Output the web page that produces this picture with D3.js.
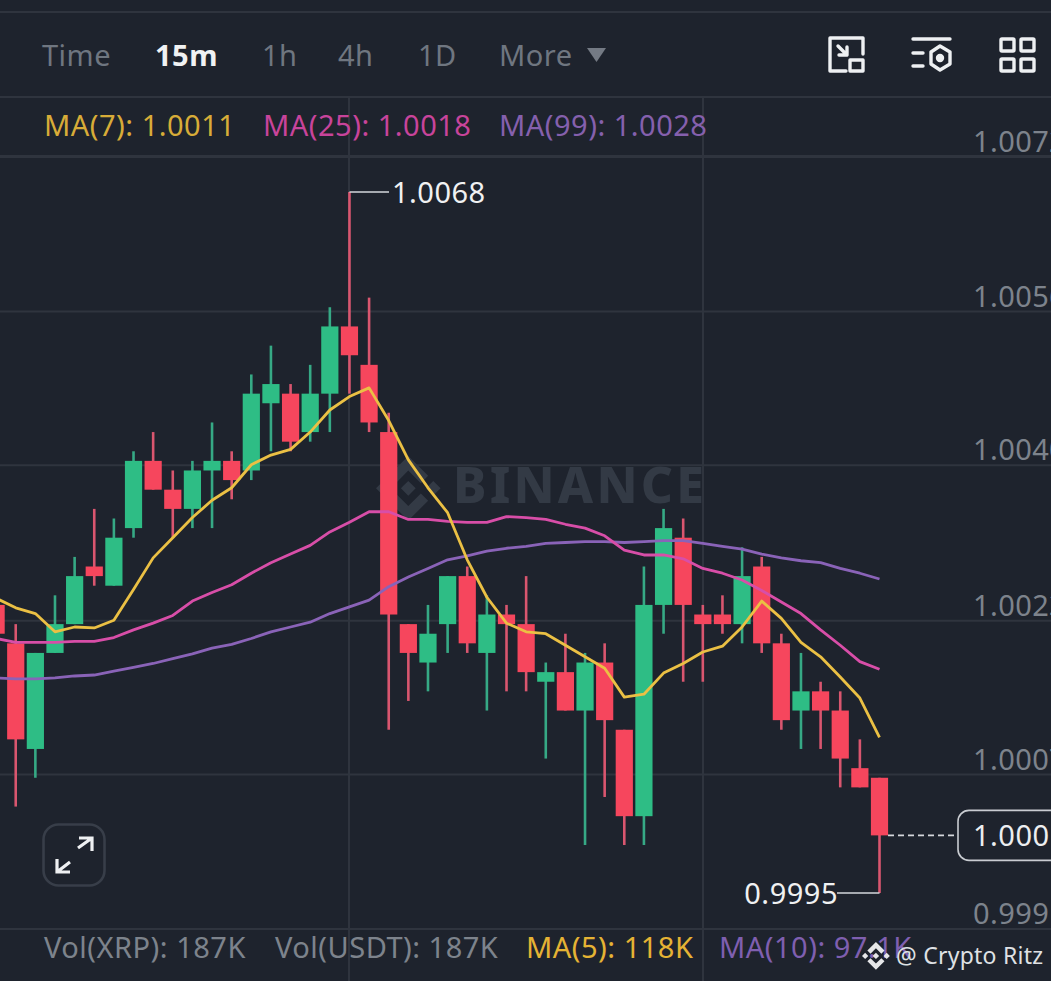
<!DOCTYPE html>
<html>
<head>
<meta charset="utf-8">
<script src="https://cdn.jsdelivr.net/npm/d3@7"></script>
<style>
 html, body { margin: 0; padding: 0; background: #1e232d; overflow: hidden; }
 svg { display: block; }
 text, .tick text { font-family: "Noto Sans", Inter, sans-serif; }
</style>
</head>
<body>
<svg id="chart" width="1051" height="981"></svg>
<script>
 // candles, left to right (first one is cut off by the window edge)
 const opens = [1.0025,1.0021,1.0010,1.0020,1.0023,1.0029,1.0027,1.0033,1.0040,1.0037,1.0035,1.0039,1.0040,1.0039,1.0046,1.0047,1.0043,1.0047,1.0054,1.0050,1.0043,1.0023,1.0019,1.0023,1.0028,1.0020,1.0024,1.0023,1.0017,1.0018,1.0014,1.0019,1.0012,1.0003,1.0025,1.0032,1.0024,1.0024,1.0023,1.0029,1.0021,1.0014,1.0016,1.0014,1.0008,1.0007];
 const closes = [1.0022,1.0011,1.0020,1.0023,1.0028,1.0028,1.0032,1.0040,1.0037,1.0035,1.0039,1.0040,1.0038,1.0047,1.0048,1.0042,1.0047,1.0054,1.0051,1.0044,1.0024,1.0020,1.0022,1.0028,1.0021,1.0024,1.0023,1.0018,1.0018,1.0014,1.0019,1.0013,1.0003,1.0025,1.0033,1.0025,1.0023,1.0023,1.0028,1.0021,1.0013,1.0016,1.0014,1.0009,1.0006,1.0001];
 const highs = [1.0025,1.0023,1.0020,1.0026,1.0030,1.0035,1.0034,1.0041,1.0043,1.0039,1.0040,1.0044,1.0041,1.0049,1.0052,1.0048,1.0050,1.0056,1.0068,1.0057,1.0045,1.0023,1.0025,1.0028,1.0029,1.0026,1.0025,1.0028,1.0019,1.0022,1.0020,1.0021,1.0012,1.0029,1.0035,1.0034,1.0025,1.0026,1.0031,1.0030,1.0022,1.0020,1.0017,1.0016,1.0011,1.0007];
 const lows = [1.0022,1.0004,1.0007,1.0020,1.0023,1.0027,1.0027,1.0032,1.0037,1.0032,1.0033,1.0033,1.0036,1.0038,1.0041,1.0041,1.0042,1.0043,1.0047,1.0043,1.0012,1.0015,1.0016,1.0020,1.0020,1.0014,1.0016,1.0016,1.0009,1.0014,1.0000,1.0005,1.0000,1.0000,1.0022,1.0017,1.0017,1.0022,1.0021,1.0020,1.0012,1.0010,1.0010,1.0006,1.0006,0.9995];

 const ma7 = [1.00257,1.00247,1.00241,1.00222,1.00227,1.00226,1.00234,1.00266,1.00299,1.00320,1.00341,1.00359,1.00372,1.00396,1.00406,1.00412,1.00430,1.00453,1.00467,1.00476,1.00442,1.00401,1.00372,1.00346,1.00297,1.00258,1.00231,1.00222,1.00220,1.00208,1.00196,1.00184,1.00154,1.00157,1.00179,1.00189,1.00201,1.00207,1.00227,1.00254,1.00236,1.00211,1.00196,1.00175,1.00153,1.00112];
 const ma25 = [1.00215,1.00211,1.00211,1.00211,1.00212,1.00212,1.00216,1.00224,1.00231,1.00239,1.00254,1.00263,1.00271,1.00283,1.00294,1.00303,1.00312,1.00326,1.00336,1.00347,1.00347,1.00339,1.00339,1.00337,1.00336,1.00336,1.00342,1.00341,1.00339,1.00334,1.00330,1.00322,1.00307,1.00302,1.00302,1.00298,1.00288,1.00283,1.00276,1.00265,1.00253,1.00241,1.00224,1.00208,1.00191,1.00183];
 const ma99 = [1.00174,1.00173,1.00173,1.00174,1.00176,1.00177,1.00181,1.00185,1.00189,1.00194,1.00199,1.00205,1.00209,1.00215,1.00222,1.00227,1.00232,1.00241,1.00248,1.00255,1.00269,1.00279,1.00288,1.00297,1.00301,1.00306,1.00309,1.00311,1.00314,1.00315,1.00316,1.00316,1.00315,1.00316,1.00317,1.00317,1.00314,1.00311,1.00308,1.00303,1.00299,1.00296,1.00294,1.00288,1.00283,1.00277];

 // price axis
 const gridValues = [1.00717,1.00556,1.00396,1.00234,1.00074,0.99913];
 const tickLabels = ["1.0072","1.0056","1.0040","1.0023","1.0007","0.9991"];
 const highPrice = 1.0068, lowPrice = 0.9995, lastPrice = 1.0001;

 const intervals = ["Time","15m","1h","4h","1D","More"];
 const intervalX = [42,155,262,338,418,499];

 const green = "#2ebd85", red = "#f6465d";
 const greenWick = "#36a985", redWick = "#d9566f";
 const grid = "#2f343e";
 const logoPaths = "M38.73 53.2l24.59-24.58 24.6 24.6 14.3-14.31L63.32 0 24.43 38.9z M0 63.31l14.3-14.31 14.31 14.31-14.31 14.3z M38.73 73.41l24.59 24.59 24.6-24.6 14.31 14.29-38.9 38.91-38.91-38.88z M98 63.31l14.3-14.31 14.31 14.3-14.31 14.32z M77.83 63.3L63.32 48.78 52.59 59.51l-1.24 1.23-2.54 2.54 14.51 14.5 14.51-14.52z";

 const svg = d3.select("#chart");
 const x = d3.scaleLinear().domain([0, opens.length - 1]).range([-3.9, 879.5]);
 const y = d3.scaleLinear().domain([lowPrice, highPrice]).range([893, 192]);

 // frame lines
 [12, 97, 156].forEach(v => {
   svg.append("line").attr("x1", 0).attr("x2", 1051).attr("y1", v).attr("y2", v)
      .attr("stroke", grid).attr("stroke-width", 2);
 });
 [349, 703].forEach(v => {
   svg.append("line").attr("x1", v).attr("x2", v).attr("y1", 97).attr("y2", 981)
      .attr("stroke", grid).attr("stroke-width", 2);
 });

 // grid + price labels
 const axis = d3.axisRight(y).tickValues(gridValues)
                .tickFormat((d, i) => tickLabels[i])
                .tickSize(1051).tickPadding(0);
 const axisG = svg.append("g").call(axis);
 axisG.select(".domain").remove();
 axisG.selectAll("line").attr("stroke", grid).attr("stroke-width", 2);
 axisG.selectAll("text")
      .attr("x", 973).attr("y", -15).attr("dy", "0.35em")
      .attr("letter-spacing", 0.4)
      .attr("font-size", 29).attr("fill", "#7d838c");

 // watermark
 svg.append("path").attr("d", logoPaths).attr("fill", "#333a45")
    .attr("transform", "translate(376,456) scale(0.51)");
 svg.append("text").attr("x", 453).attr("y", 503).attr("font-size", 50).attr("font-weight", 800)
    .attr("letter-spacing", 3.2).attr("fill", "#333a45").text("BINANCE");

 // candles
 const candles = svg.append("g").selectAll("g").data(opens).join("g");
 candles.append("line")
        .attr("x1", (d, i) => x(i)).attr("x2", (d, i) => x(i))
        .attr("y1", (d, i) => y(highs[i])).attr("y2", (d, i) => y(lows[i]))
        .attr("stroke", (d, i) => closes[i] >= opens[i] ? greenWick : redWick)
        .attr("stroke-width", 2.6);
 candles.append("rect")
        .attr("x", (d, i) => x(i) - 8.6).attr("width", 17.2)
        .attr("y", (d, i) => y(Math.max(opens[i], closes[i])))
        .attr("height", (d, i) => Math.abs(y(opens[i]) - y(closes[i])))
        .attr("fill", (d, i) => closes[i] >= opens[i] ? green : red);

 // moving averages
 const line = d3.line().x((d, i) => x(i)).y(d => y(d));
 [[ma99, "#8a63b8"], [ma25, "#d84ea8"], [ma7, "#ebc044"]].forEach(s => {
   svg.append("path").attr("d", line(s[0])).attr("fill", "none")
      .attr("stroke", s[1]).attr("stroke-width", 2.8).attr("stroke-linejoin", "round");
 });

 // high / low / last price callouts
 const callout = "#d5d8dc";
 svg.append("line").attr("x1", x(18)).attr("x2", 389).attr("y1", y(highPrice)).attr("y2", y(highPrice))
    .attr("stroke", callout).attr("stroke-width", 1.6);
 svg.append("text").attr("x", 392).attr("y", y(highPrice) + 1).attr("dy", "0.35em")
    .attr("letter-spacing", 0.5).attr("font-size", 29).attr("fill", "#f0f1f2").text(highPrice.toFixed(4));
 svg.append("line").attr("x1", 837).attr("x2", x(45)).attr("y1", y(lowPrice)).attr("y2", y(lowPrice))
    .attr("stroke", callout).attr("stroke-width", 1.6);
 svg.append("text").attr("x", 838).attr("y", y(lowPrice) + 1).attr("dy", "0.35em").attr("text-anchor", "end")
    .attr("letter-spacing", 0.5).attr("font-size", 29).attr("fill", "#f0f1f2").text(lowPrice.toFixed(4));
 svg.append("line").attr("x1", 888).attr("x2", 958).attr("y1", y(lastPrice)).attr("y2", y(lastPrice))
    .attr("stroke", callout).attr("stroke-width", 1.8).attr("stroke-dasharray", "6 4");
 svg.append("rect").attr("x", 958).attr("y", y(lastPrice) - 25).attr("width", 120).attr("height", 50).attr("rx", 11)
    .attr("fill", "#1e232d").attr("stroke", "#c9ccd1").attr("stroke-width", 1.6);
 svg.append("text").attr("x", 973).attr("y", y(lastPrice)).attr("dy", "0.35em")
    .attr("letter-spacing", 0.5).attr("font-size", 29).attr("fill", "#eceef0").text(lastPrice.toFixed(4));

 // toolbar
 intervals.forEach((t, i) => {
   svg.append("text").attr("x", intervalX[i]).attr("y", 66).attr("font-size", 29)
      .attr("letter-spacing", 0.5)
      .attr("font-weight", t == "15m" ? 700 : 400)
      .attr("fill", t == "15m" ? "#f1f2f3" : "#6f7680").text(t);
 });
 svg.append("path").attr("d", "M587,48 L606,48 L596.5,62 Z").attr("fill", "#747a84");

 const iconStroke = "#eef0f2";
 const icons = svg.append("g").attr("fill", "none").attr("stroke", iconStroke)
                  .attr("stroke-width", 3.4).attr("stroke-linecap", "round").attr("stroke-linejoin", "round");
 // resize icon
 icons.append("path").attr("d", "M846,71 L830,71 L830,38 L863,38 L863,54");
 icons.append("rect").attr("x", 850).attr("y", 60).attr("width", 13).attr("height", 11);
 icons.append("path").attr("d", "M838,46 L847,55 M847,47 L847,55 L839,55");
 // settings icon
 icons.append("path").attr("d", "M913,39 L950,39 M913,53 L923,53 M913,66 L923,66");
 icons.append("path").attr("d", "M940,46 L950,52 L950,64 L940,70 L931,64 L931,52 Z");
 icons.append("circle").attr("cx", 940).attr("cy", 58).attr("r", 2.5).attr("fill", iconStroke);
 // grid icon
 [[1001, 39], [1021, 39], [1001, 59], [1021, 59]].forEach(p => {
   icons.append("rect").attr("x", p[0]).attr("y", p[1]).attr("width", 13).attr("height", 12).attr("rx", 1);
 });

 // legends
 const legend = (txt, xp, yp, col) => svg.append("text").attr("x", xp).attr("y", yp)
    .attr("font-size", 29).attr("letter-spacing", 0.5).attr("fill", col).text(txt);
 legend("MA(7): 1.0011", 44, 136, "#d8ac38");
 legend("MA(25): 1.0018", 263, 136, "#c8449b");
 legend("MA(99): 1.0028", 499, 136, "#8560ad");
 legend("Vol(XRP): 187K", 44, 958, "#7d838c");
 legend("Vol(USDT): 187K", 275, 958, "#7d838c");
 legend("MA(5): 118K", 526, 958, "#e5b334");
 legend("MA(10): 97.1K", 719, 958, "#7f5fb0");

 // expand button
 svg.append("rect").attr("x", 43.5).attr("y", 824.5).attr("width", 61).attr("height", 61).attr("rx", 15)
    .attr("fill", "none").attr("stroke", "#383e49").attr("stroke-width", 2.6);
 svg.append("path")
    .attr("d", "M78,848 L92,838 M79,838 L92,838 L92,851 M70,862 L57,872 M57,859 L57,872 L70,872")
    .attr("fill", "none").attr("stroke", "#eef0f2").attr("stroke-width", 3.2);

 // attribution
 svg.append("path").attr("d", logoPaths).attr("fill", "#e6e7e9")
    .attr("transform", "translate(862,942) scale(0.22)");
 svg.append("text").attr("x", 896).attr("y", 964).attr("font-size", 23).attr("letter-spacing", 0.25)
    .attr("fill", "#dfe1e4").text("@ Crypto Ritz");
</script>
</body>
</html>
